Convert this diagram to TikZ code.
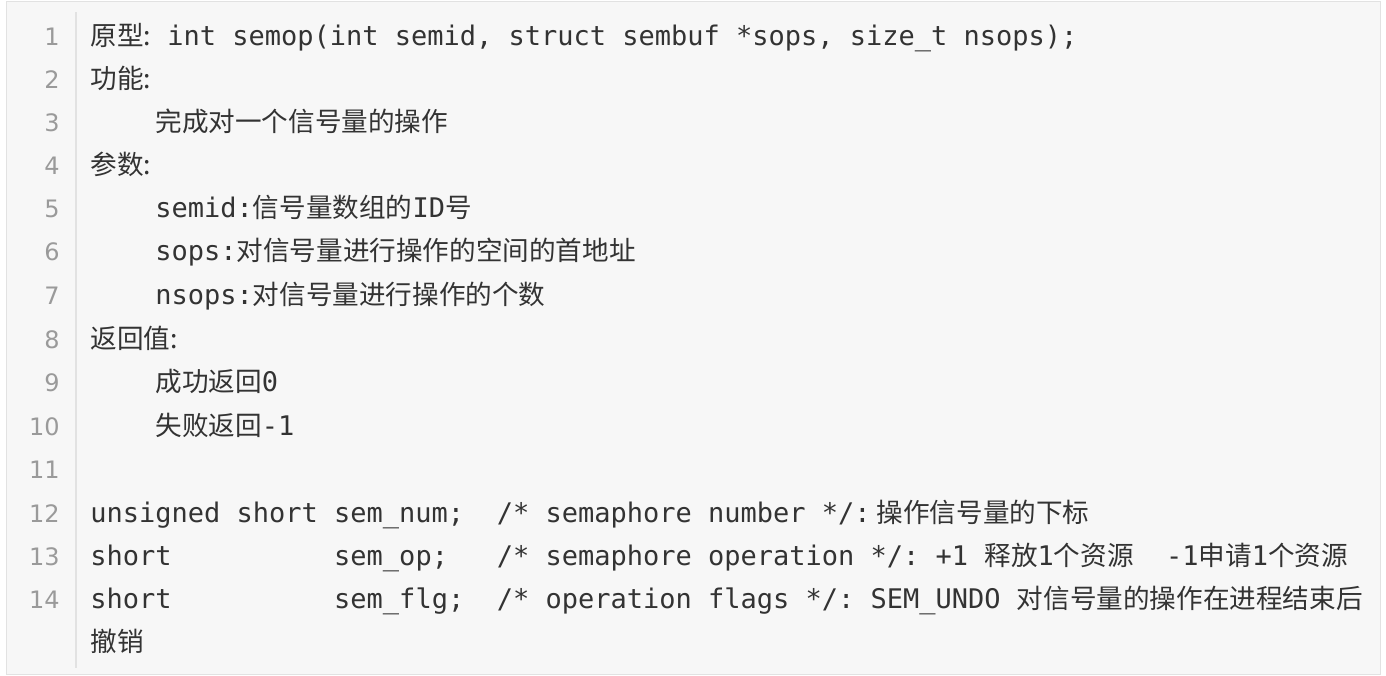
\documentclass[tikz,border=0pt]{standalone}
\usepackage{fontspec}
\setmonofont{DejaVu Sans Mono}
\newfontfamily\cjk{Noto Sans CJK SC}
\newfontfamily\numf{DejaVu Sans}
\definecolor{bgc}{HTML}{F7F7F7}
\definecolor{bdc}{HTML}{E2E2E2}
\definecolor{txc}{HTML}{333333}
\definecolor{lnc}{HTML}{9A9A9A}
\newcommand{\zh}[1]{{\cjk\fontsize{13.3pt}{16pt}\selectfont #1}}
\tikzset{code/.style={anchor=base west,inner sep=0pt,text=txc,font=\ttfamily\fontsize{13.5pt}{16pt}\selectfont},
lnum/.style={anchor=base east,inner sep=0pt,text=lnc,font=\numf\fontsize{12pt}{14pt}\selectfont}}
\begin{document}
\begin{tikzpicture}[x=0.5pt,y=-0.5pt]
\useasboundingbox (0,0) rectangle (1386,675);
\fill[bgc,draw=bdc] (6,1) rectangle (1380,674);
\draw[bdc,line width=1pt] (76,12) -- (76,668);
\foreach \n/\y in {1/45,2/88,3/131,4/174,5/217,6/260,7/304,8/348,9/391,10/435,11/478,12/522,13/565,14/608}
  \node[lnum] (n\n) at (60,\y) {\n};
\node[code] (l1) at (90,45) {\zh{原型:}~int semop(int semid, struct sembuf *sops, size\_t nsops);};
\node[code] (l2) at (90,88) {\zh{功能:}};
\node[code] (l3) at (155,131) {\zh{完成对一个信号量的操作}};
\node[code] (l4) at (90,174) {\zh{参数:}};
\node[code] (l5) at (155,217) {semid:\zh{信号量数组的}ID\zh{号}};
\node[code] (l6) at (155,260) {sops:\zh{对信号量进行操作的空间的首地址}};
\node[code] (l7) at (155,304) {nsops:\zh{对信号量进行操作的个数}};
\node[code] (l8) at (90,348) {\zh{返回值:}};
\node[code] (l9) at (155,391) {\zh{成功返回}0};
\node[code] (l10) at (155,435) {\zh{失败返回}-1};
\node[code] (l12) at (90,522) {unsigned short sem\_num;~~/* semaphore number */:\zh{~操作信号量的下标}};
\node[code] (l13) at (90,565) {short~~~~~~~~~~sem\_op;~~~/* semaphore operation */:~+1~\zh{释放}1\zh{个资源}~~-1\zh{申请}1\zh{个资源}};
\node[code] (l14) at (90,608) {short~~~~~~~~~~sem\_flg;~~/* operation flags */:~SEM\_UNDO~\zh{对信号量的操作在进程结束后}};
\node[code] (l14b) at (90,651) {\zh{撤销}};
\end{tikzpicture}
\end{document}
